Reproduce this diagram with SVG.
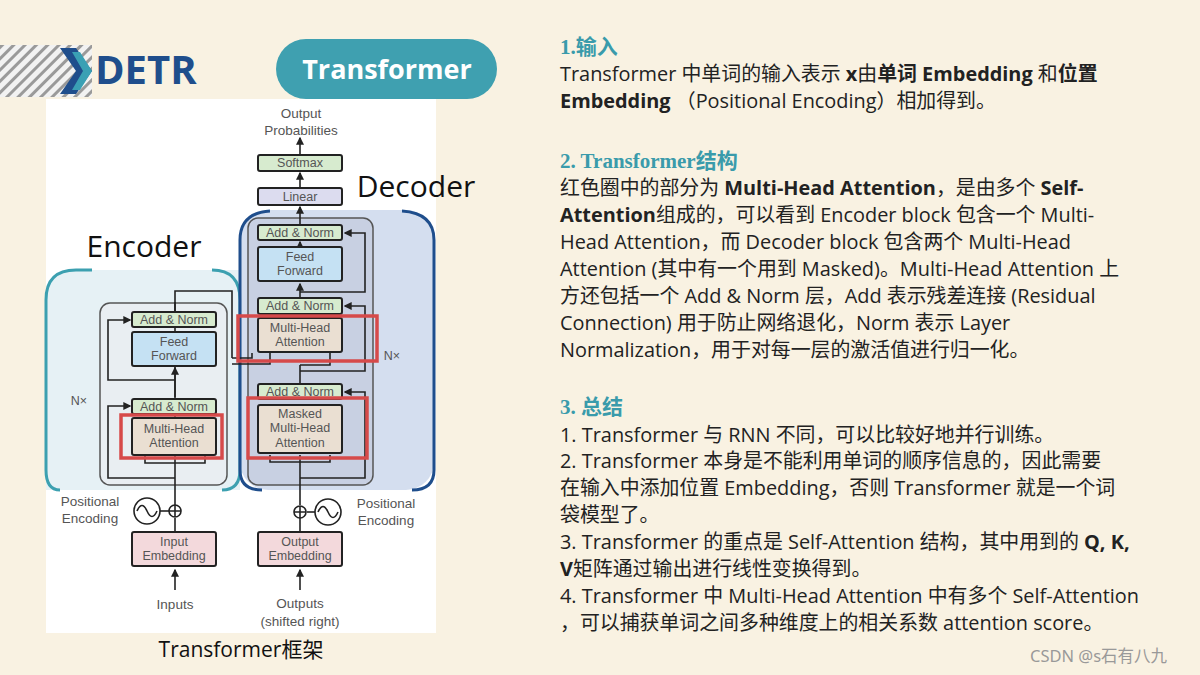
<svg xmlns="http://www.w3.org/2000/svg" width="1200" height="675" viewBox="0 0 1200 675">
<defs>
<marker id="ar" viewBox="0 0 6 6" refX="5" refY="3" markerWidth="5" markerHeight="5" orient="auto"><path d="M0,0L6,3L0,6z" fill="#222"/></marker>
<pattern id="hatch" width="8" height="8" patternUnits="userSpaceOnUse" patternTransform="rotate(45)"><rect width="8" height="8" fill="#f2f2f2"/><rect width="3" height="8" fill="#9a9a9a"/></pattern>
<style>
.b{stroke:#222;stroke-width:2}
.t{font-family:"Liberation Sans",Arial,sans-serif;font-size:12.5px;fill:#555;text-anchor:middle}
.an{fill:#d7ebcf}.ff{fill:#c5e1f3}.mh{fill:#eadfd2}.em{fill:#f3d9dc}
.c{fill:none;stroke:#222;stroke-width:1.6}
.body{font-family:"Open Sans","Noto Sans CJK SC",sans-serif;font-size:19.9px;fill:#222}
.h{font-family:"Liberation Serif","Noto Sans CJK SC",serif;font-size:21px;font-weight:bold;fill:#3a9bab}
.red{fill:none;stroke:#d64a4a;stroke-width:3.5}
</style>
</defs>
<rect width="1200" height="675" fill="#f9f2e2"/>
<g id="logo">
<rect x="0" y="45" width="92" height="52" fill="url(#hatch)"/>
<path d="M60,48L76,48L92,71L76,94L60,94L76,71z" fill="#1f4e8c"/>
<path d="M72,52L80,52L92,71L80,90L72,90L83,71z" fill="#3aa0b4"/>
<text x="95" y="84" font-family="'Open Sans',sans-serif" font-weight="bold" font-size="40" fill="#1f4e8c">DETR</text>
</g>
<g id="title">
<rect x="276" y="39" width="221" height="60" rx="30" fill="#3fa0b0"/>
<text x="387" y="79" text-anchor="middle" font-family="'Open Sans',sans-serif" font-weight="bold" font-size="27" fill="#fff">Transformer</text>
</g>
<rect x="46" y="99" width="390" height="534" fill="#fff"/>
<g id="encoder-region">
<path d="M46,490V300Q46,270 76,270H240V490Z" fill="#e6f1f5"/>
<path d="M60,490Q46,490 46,470V300Q46,270 76,270H92M212,270Q240,270 240,300V470Q240,490 222,490" fill="none" stroke="#3ca0b0" stroke-width="3"/>
<text x="144" y="257" text-anchor="middle" font-family="'Open Sans',sans-serif" font-size="30" fill="#111">Encoder</text>
</g>
<g id="decoder-region">
<rect x="240" y="210" width="194" height="280" rx="28" fill="#cdd8ec" opacity="0.85"/>
<path d="M270,211Q240,213 240,240V470Q240,490 262,490M402,211Q434,213 434,240V470Q434,490 412,490" fill="none" stroke="#1f4e8c" stroke-width="3"/>
<text x="416" y="197" text-anchor="middle" font-family="'Open Sans',sans-serif" font-size="30" fill="#111">Decoder</text>
</g>
<g id="enc-block">
<rect x="100" y="303" width="127" height="182" rx="10" fill="#e9eef2" stroke="#555" stroke-width="1.5"/>
</g>
<g id="dec-block">
<rect x="248" y="218" width="125" height="267" rx="10" fill="#c8d0e2" stroke="#555" stroke-width="1.5"/>
</g>
<g id="connectors">
<path class="c" d="M175,590V570" marker-end="url(#ar)"/>
<path class="c" d="M175,532V518"/>
<path class="c" d="M175,505V302"/>
<path class="c" d="M175,397V368" marker-end="url(#ar)"/>
<path class="c" d="M175,312V291H232V358"/>
<path class="c" d="M175,478H108V406H130" marker-end="url(#ar)"/>
<path class="c" d="M175,380H108V320H130" marker-end="url(#ar)"/>
<path class="c" d="M145,456V463H205V456"/>
<path class="c" d="M300,590V570" marker-end="url(#ar)"/>
<path class="c" d="M300,532V518"/>
<path class="c" d="M300,505V455"/>
<path class="c" d="M300,478H365V392H345" marker-end="url(#ar)"/>
<path class="c" d="M270,455V462H330V455"/>
<path class="c" d="M300,384V365"/>
<path class="c" d="M300,371H365V306H345" marker-end="url(#ar)"/>
<path class="c" d="M300,365H330V353"/>
<path class="c" d="M232,358H252V353"/>
<path class="c" d="M232,364H270V353"/>
<path class="c" d="M300,298V284" marker-end="url(#ar)"/>
<path class="c" d="M300,292H365V233H345" marker-end="url(#ar)"/>
<path class="c" d="M300,247V242" marker-end="url(#ar)"/>
<path class="c" d="M300,225V207" marker-end="url(#ar)"/>
<path class="c" d="M300,188V173" marker-end="url(#ar)"/>
<path class="c" d="M300,155V138" marker-end="url(#ar)"/>
<path class="c" d="M307,512H315"/>
<path class="c" d="M160,511H169"/>
</g>
<g id="enc-nodes">
<rect class="b an" x="132" y="312" width="84" height="15" rx="2"/><text class="t" x="174" y="324">Add &amp; Norm</text>
<rect class="b ff" x="132" y="332" width="84" height="34" rx="2"/><text class="t" x="174" y="346">Feed</text><text class="t" x="174" y="360">Forward</text>
<rect class="b an" x="132" y="399" width="84" height="15" rx="2"/><text class="t" x="174" y="411">Add &amp; Norm</text>
<rect class="b mh" x="132" y="418" width="84" height="37" rx="2"/><text class="t" x="174" y="433">Multi-Head</text><text class="t" x="174" y="447">Attention</text>
<rect class="red" x="121" y="415" width="101" height="43"/>
<text class="t" x="79" y="405">N×</text>
<circle cx="147" cy="511" r="13" fill="none" stroke="#222" stroke-width="1.6"/><path class="c" d="M137,511Q142,500 147,511T157,511"/>
<circle cx="175" cy="511" r="6" fill="#fff" stroke="#222" stroke-width="1.6"/><path class="c" d="M169,511H181M175,505V517"/>
<text class="t" x="90" y="506" style="font-size:13.5px">Positional</text><text class="t" x="90" y="523" style="font-size:13.5px">Encoding</text>
<rect class="b em" x="132" y="532" width="84" height="34" rx="2"/><text class="t" x="174" y="546">Input</text><text class="t" x="174" y="560">Embedding</text>
<text class="t" x="175" y="609" style="font-size:13.5px">Inputs</text>
</g>
<g id="dec-nodes">
<text class="t" x="301" y="118" style="font-size:13.5px">Output</text><text class="t" x="301" y="135" style="font-size:13.5px">Probabilities</text>
<rect class="b an" x="258" y="155" width="84" height="16" rx="2"/><text class="t" x="300" y="167">Softmax</text>
<rect class="b" x="258" y="188" width="84" height="17" rx="2" fill="#dcdcef"/><text class="t" x="300" y="201">Linear</text>
<rect class="b an" x="258" y="225" width="84" height="15" rx="2"/><text class="t" x="300" y="237">Add &amp; Norm</text>
<rect class="b ff" x="258" y="247" width="84" height="34" rx="2"/><text class="t" x="300" y="261">Feed</text><text class="t" x="300" y="275">Forward</text>
<rect class="b an" x="258" y="298" width="84" height="16" rx="2"/><text class="t" x="300" y="310">Add &amp; Norm</text>
<rect class="b mh" x="258" y="318" width="84" height="34" rx="2"/><text class="t" x="300" y="332">Multi-Head</text><text class="t" x="300" y="346">Attention</text>
<rect class="red" x="238" y="316" width="139" height="45"/>
<rect class="b an" x="258" y="384" width="84" height="15" rx="2"/><text class="t" x="300" y="396">Add &amp; Norm</text>
<rect class="b mh" x="258" y="405" width="84" height="48" rx="2"/><text class="t" x="300" y="418">Masked</text><text class="t" x="300" y="432">Multi-Head</text><text class="t" x="300" y="447">Attention</text>
<rect class="red" x="248" y="398" width="119" height="60"/>
<text class="t" x="392" y="360">N×</text>
<circle cx="300" cy="512" r="6" fill="#fff" stroke="#222" stroke-width="1.6"/><path class="c" d="M294,512H306M300,506V518"/>
<circle cx="328" cy="512" r="13" fill="none" stroke="#222" stroke-width="1.6"/><path class="c" d="M318,512Q323,501 328,512T338,512"/>
<text class="t" x="386" y="508" style="font-size:13.5px">Positional</text><text class="t" x="386" y="525" style="font-size:13.5px">Encoding</text>
<rect class="b em" x="258" y="532" width="84" height="34" rx="2"/><text class="t" x="300" y="546">Output</text><text class="t" x="300" y="560">Embedding</text>
<text class="t" x="300" y="608" style="font-size:13.5px">Outputs</text><text class="t" x="300" y="626" style="font-size:13.5px">(shifted right)</text>
</g>
<text x="241" y="657" text-anchor="middle" font-family="'Open Sans','Noto Sans CJK SC',sans-serif" font-size="21" fill="#111">Transformer框架</text>
<g id="text">
<text class="h" x="560" y="54">1.输入</text>
<text class="body" x="560" y="81">Transformer 中单词的输入表示 <tspan font-weight="bold">x</tspan>由<tspan font-weight="bold">单词 Embedding</tspan> 和<tspan font-weight="bold">位置</tspan></text>
<text class="body" x="560" y="108"><tspan font-weight="bold">Embedding</tspan> （Positional Encoding）相加得到。</text>
<text class="h" x="560" y="168">2. Transformer结构</text>
<text class="body" x="560" y="195">红色圈中的部分为 <tspan font-weight="bold">Multi-Head Attention</tspan>，是由多个 <tspan font-weight="bold">Self-</tspan></text>
<text class="body" x="560" y="222"><tspan font-weight="bold">Attention</tspan>组成的，可以看到 Encoder block 包含一个 Multi-</text>
<text class="body" x="560" y="249">Head Attention，而 Decoder block 包含两个 Multi-Head</text>
<text class="body" x="560" y="276">Attention (其中有一个用到 Masked)。Multi-Head Attention 上</text>
<text class="body" x="560" y="303">方还包括一个 Add &amp; Norm 层，Add 表示残差连接 (Residual</text>
<text class="body" x="560" y="330">Connection) 用于防止网络退化，Norm 表示 Layer</text>
<text class="body" x="560" y="357">Normalization，用于对每一层的激活值进行归一化。</text>
<text class="h" x="560" y="414">3. 总结</text>
<text class="body" x="560" y="442">1. Transformer 与 RNN 不同，可以比较好地并行训练。</text>
<text class="body" x="560" y="468">2. Transformer 本身是不能利用单词的顺序信息的，因此需要</text>
<text class="body" x="560" y="495">在输入中添加位置 Embedding，否则 Transformer 就是一个词</text>
<text class="body" x="560" y="522">袋模型了。</text>
<text class="body" x="560" y="549">3. Transformer 的重点是 Self-Attention 结构，其中用到的 <tspan font-weight="bold">Q, K,</tspan></text>
<text class="body" x="560" y="576"><tspan font-weight="bold">V</tspan>矩阵通过输出进行线性变换得到。</text>
<text class="body" x="560" y="603">4. Transformer 中 Multi-Head Attention 中有多个 Self-Attention</text>
<text class="body" x="560" y="630">，可以捕获单词之间多种维度上的相关系数 attention score。</text>
<text x="1030" y="662" font-family="'Noto Sans','Noto Sans CJK SC',sans-serif" font-size="16.5" fill="#999">CSDN @s石有八九</text>
</g>
</svg>
